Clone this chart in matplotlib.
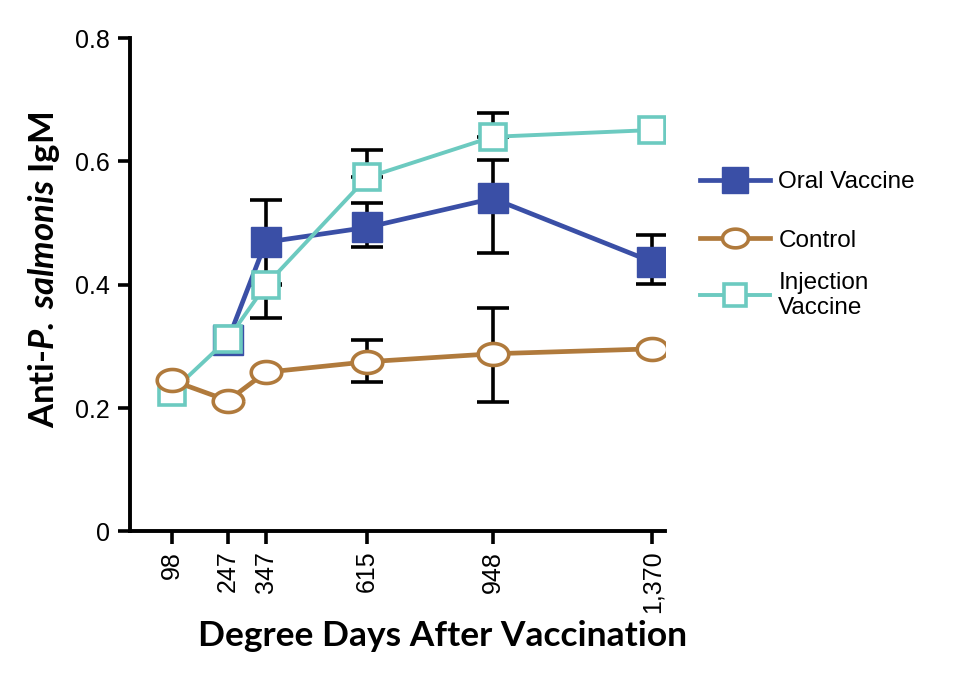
import matplotlib.pyplot as plt
import numpy as np

# degree days after vaccination
days = [98, 247, 347, 615, 948, 1370]
day_labels = ["98", "247", "347", "615", "948", "1,370"]

# Anti-P. salmonis IgM
oral_days = [247, 347, 615, 948, 1370]
oral = [0.31, 0.469, 0.493, 0.540, 0.437]
oral_lo = [0.0, 0.068, 0.031, 0.089, 0.035]
oral_hi = [0.0, 0.068, 0.039, 0.062, 0.043]

control = [0.245, 0.212, 0.258, 0.275, 0.288, 0.296]
control_lo = [0.0, 0.0, 0.0, 0.033, 0.078, 0.0]
control_hi = [0.0, 0.0, 0.0, 0.035, 0.074, 0.0]

injection = [0.226, 0.312, 0.399, 0.574, 0.640, 0.651]
injection_lo = [0.0, 0.0, 0.053, 0.0, 0.0, 0.0]
injection_hi = [0.0, 0.0, 0.0, 0.044, 0.038, 0.0]

c_oral = '#3a4fa6'
c_control = '#b07a3c'
c_inj = '#6ccac0'

plt.rcParams['font.family'] = ['Liberation Sans', 'DejaVu Sans']
plt.rcParams['mathtext.fontset'] = 'custom'
plt.rcParams['mathtext.bfit'] = 'Lato:bold:italic'

fig = plt.figure(figsize=(9.6, 6.82), dpi=100)
ax = fig.add_axes([0.135, 0.221, 0.558, 0.723])


def err(x, y, lo, hi):
    # only draw the bars that were drawn in the original
    x, y, lo, hi = map(np.array, (x, y, lo, hi))
    m = (lo > 0) | (hi > 0)
    ax.errorbar(x[m], y[m], yerr=[lo[m], hi[m]], fmt='none', ecolor='black',
                elinewidth=2.6, capsize=11.5, capthick=2.6, zorder=1)


err(oral_days, oral, oral_lo, oral_hi)
err(days, control, control_lo, control_hi)
err(days, injection, injection_lo, injection_hi)

# the circles are a bit squashed in the original
t = np.linspace(0, 2 * np.pi, 60)
oval = np.column_stack([np.cos(t), 0.72 * np.sin(t)])

l_oral, = ax.plot(oral_days, oral, color=c_oral, lw=3.4, marker='s', ms=22,
                  mfc=c_oral, mec=c_oral, zorder=2)
l_inj, = ax.plot(days, injection, color=c_inj, lw=2.8, marker='s', ms=18.5,
                 mfc='white', mec=c_inj, mew=2.6, zorder=3)
l_ctrl, = ax.plot(days, control, color=c_control, lw=3.4, marker=oval, ms=22,
                  mfc='white', mec=c_control, mew=2.6, zorder=4)

ax.set_xlim(-13, 1404)
ax.set_ylim(0, 0.8)
ax.set_xticks(days)
ax.set_xticklabels(day_labels, rotation=90, fontsize=18)
ax.set_yticks([0, 0.2, 0.4, 0.6, 0.8])
ax.set_yticklabels(['0', '0.2', '0.4', '0.6', '0.8'], fontsize=18)
ax.tick_params(width=2.6, length=9, direction='out', color='black', pad=5)

for s in ['top', 'right']:
    ax.spines[s].set_visible(False)
for s in ['left', 'bottom']:
    ax.spines[s].set_linewidth(2.8)
ax.spines['bottom'].set_bounds(-13, 1404)

fig.text(0.4615, 0.0675, 'Degree Days After Vaccination', fontsize=25.5,
         fontweight='bold', family=['Lato', 'DejaVu Sans'], ha='center', va='center')
ax.set_ylabel(r'Anti-$\mathbfit{P.}\,\mathbfit{salmonis}$ IgM', fontsize=25, fontweight='bold',
              family=['Lato', 'DejaVu Sans'])
ax.yaxis.set_label_coords(-0.127, 0.53)

# one legend per entry so the rows sit where they do in the original
for handle, label, y in [(l_oral, 'Oral Vaccine', 0.733),
                         (l_ctrl, 'Control', 0.647),
                         (l_inj, 'Injection\nVaccine', 0.567)]:
    fig.legend([handle], [label], loc='center left', bbox_to_anchor=(0.729, y),
               frameon=False, fontsize=17.5, borderpad=0, borderaxespad=0,
               handlelength=2.9, handletextpad=0.33, markerscale=0.85)

fig.savefig('out.png', dpi=100)
